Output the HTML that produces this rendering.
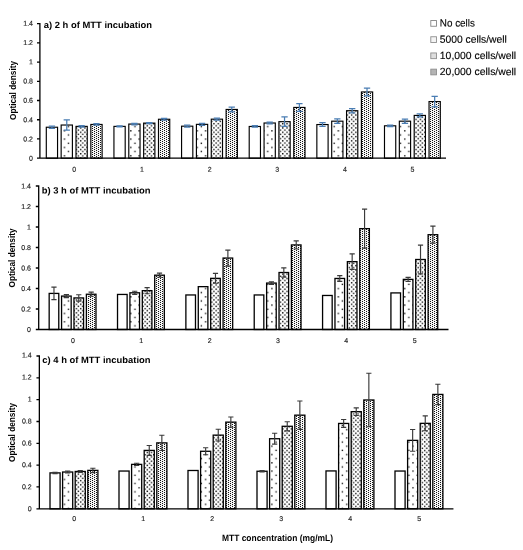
<!DOCTYPE html>
<html lang="en"><head><meta charset="utf-8"><title>MTT incubation optical density</title>
<style>
html,body{margin:0;padding:0;background:#fff;}
body{width:523px;height:550px;overflow:hidden;font-family:"Liberation Sans", sans-serif;}
svg{display:block;}
text{font-family:"Liberation Sans", sans-serif;}
.t{font-weight:bold;font-size:9.1px;fill:#000;}
.k{font-size:7px;fill:#1c1c1c;stroke:#1c1c1c;stroke-width:0.15;}
.l{font-size:10.4px;fill:#000;stroke:#000;stroke-width:0.12;}
.bar{stroke:#000;}
.ax{stroke:#000;stroke-width:1.3;fill:none;}
</style></head><body>
<svg width="523" height="550" viewBox="0 0 523 550">
<defs>
<pattern id="p5" width="8.3" height="8.3" patternUnits="userSpaceOnUse">
<rect width="8.3" height="8.3" fill="#fff"/>
<rect x="1.5" y="1.5" width="1.35" height="1.35" fill="#111"/>
<rect x="5.65" y="5.65" width="1.35" height="1.35" fill="#111"/>
</pattern>
<pattern id="p20" width="4.3" height="4.3" patternUnits="userSpaceOnUse">
<rect width="4.3" height="4.3" fill="#fff"/>
<rect x="0.4" y="0.4" width="1.4" height="1.4" fill="#111"/>
<rect x="2.55" y="2.55" width="1.4" height="1.4" fill="#111"/>
</pattern>
<pattern id="p40" width="4" height="2" patternUnits="userSpaceOnUse">
<rect width="4" height="2" fill="#f6f6f6"/>
<rect x="0" y="0" width="1" height="1" fill="#141414"/>
<rect x="2" y="1" width="1" height="1" fill="#141414"/>
</pattern>
</defs>
<rect width="523" height="550" fill="#fff"/>

<g id="chart-a">
<rect class="bar" stroke-width="1.15" x="46.30" y="127.24" width="11.25" height="30.96" fill="#fff"/>
<rect class="bar" stroke-width="1.15" x="61.15" y="125.03" width="11.25" height="33.17" fill="url(#p5)"/>
<rect class="bar" stroke-width="1.15" x="76.00" y="126.38" width="11.25" height="31.82" fill="url(#p20)"/>
<rect class="bar" stroke-width="1.15" x="90.85" y="124.45" width="11.25" height="33.75" fill="url(#p40)"/>
<rect class="bar" stroke-width="1.15" x="113.94" y="126.38" width="11.25" height="31.82" fill="#fff"/>
<rect class="bar" stroke-width="1.15" x="128.79" y="124.07" width="11.25" height="34.13" fill="url(#p5)"/>
<rect class="bar" stroke-width="1.15" x="143.64" y="123.11" width="11.25" height="35.09" fill="url(#p20)"/>
<rect class="bar" stroke-width="1.15" x="158.49" y="119.26" width="11.25" height="38.94" fill="url(#p40)"/>
<rect class="bar" stroke-width="1.15" x="181.57" y="126.18" width="11.25" height="32.02" fill="#fff"/>
<rect class="bar" stroke-width="1.15" x="196.42" y="124.36" width="11.25" height="33.84" fill="url(#p5)"/>
<rect class="bar" stroke-width="1.15" x="211.27" y="119.17" width="11.25" height="39.03" fill="url(#p20)"/>
<rect class="bar" stroke-width="1.15" x="226.12" y="109.46" width="11.25" height="48.74" fill="url(#p40)"/>
<rect class="bar" stroke-width="1.15" x="249.21" y="126.47" width="11.25" height="31.73" fill="#fff"/>
<rect class="bar" stroke-width="1.15" x="264.06" y="123.01" width="11.25" height="35.19" fill="url(#p5)"/>
<rect class="bar" stroke-width="1.15" x="278.91" y="121.67" width="11.25" height="36.53" fill="url(#p20)"/>
<rect class="bar" stroke-width="1.15" x="293.76" y="107.44" width="11.25" height="50.76" fill="url(#p40)"/>
<rect class="bar" stroke-width="1.15" x="316.85" y="124.55" width="11.25" height="33.65" fill="#fff"/>
<rect class="bar" stroke-width="1.15" x="331.70" y="121.18" width="11.25" height="37.02" fill="url(#p5)"/>
<rect class="bar" stroke-width="1.15" x="346.55" y="110.71" width="11.25" height="47.49" fill="url(#p20)"/>
<rect class="bar" stroke-width="1.15" x="361.40" y="91.96" width="11.25" height="66.24" fill="url(#p40)"/>
<rect class="bar" stroke-width="1.15" x="384.49" y="125.80" width="11.25" height="32.40" fill="#fff"/>
<rect class="bar" stroke-width="1.15" x="399.34" y="121.18" width="11.25" height="37.02" fill="url(#p5)"/>
<rect class="bar" stroke-width="1.15" x="414.19" y="115.42" width="11.25" height="42.78" fill="url(#p20)"/>
<rect class="bar" stroke-width="1.15" x="429.04" y="101.57" width="11.25" height="56.63" fill="url(#p40)"/>
<path d="M51.92 126.09V128.40M48.77 126.09H55.07M48.77 128.40H55.07M66.77 119.84V130.22M63.62 119.84H69.92M63.62 130.22H69.92M81.62 125.61V127.15M78.47 125.61H84.77M78.47 127.15H84.77M96.47 123.68V125.22M93.32 123.68H99.62M93.32 125.22H99.62M119.56 125.99V126.76M116.41 125.99H122.71M116.41 126.76H122.71M134.41 123.30V124.84M131.26 123.30H137.56M131.26 124.84H137.56M149.26 122.53V123.68M146.11 122.53H152.41M146.11 123.68H152.41M164.11 118.49V120.03M160.96 118.49H167.26M160.96 120.03H167.26M187.20 125.22V127.15M184.05 125.22H190.35M184.05 127.15H190.35M202.05 123.40V125.32M198.90 123.40H205.20M198.90 125.32H205.20M216.90 118.20V120.13M213.75 118.20H220.05M213.75 120.13H220.05M231.75 107.05V111.86M228.60 107.05H234.90M228.60 111.86H234.90M254.84 125.70V127.24M251.69 125.70H257.99M251.69 127.24H257.99M269.69 122.24V123.78M266.54 122.24H272.84M266.54 123.78H272.84M284.54 116.86V126.47M281.39 116.86H287.69M281.39 126.47H287.69M299.39 103.59V111.28M296.24 103.59H302.54M296.24 111.28H302.54M322.48 122.63V126.47M319.33 122.63H325.63M319.33 126.47H325.63M337.33 118.88V123.49M334.18 118.88H340.48M334.18 123.49H340.48M352.18 108.59V112.82M349.03 108.59H355.33M349.03 112.82H355.33M367.03 88.11V95.80M363.88 88.11H370.18M363.88 95.80H370.18M390.12 125.03V126.57M386.97 125.03H393.27M386.97 126.57H393.27M404.97 119.07V123.30M401.82 119.07H408.12M401.82 123.30H408.12M419.82 113.97V116.86M416.67 113.97H422.97M416.67 116.86H422.97M434.67 96.28V106.86M431.52 96.28H437.82M431.52 106.86H437.82" stroke="#4a7db3" stroke-width="1.25" fill="none"/>
<path class="ax" d="M39.90 22.95V158.85M39.25 158.20H446.04M37.00 158.20H39.90M37.00 138.97H39.90M37.00 119.74H39.90M37.00 100.51H39.90M37.00 81.29H39.90M37.00 62.06H39.90M37.00 42.83H39.90M37.00 23.60H39.90"/>
<text class="k" x="33.0" y="160.70" transform="rotate(0.03 33.0 160.70)" text-anchor="end">0</text>
<text class="k" x="33.0" y="141.43" transform="rotate(0.03 33.0 141.43)" text-anchor="end">0.2</text>
<text class="k" x="33.0" y="122.16" transform="rotate(0.03 33.0 122.16)" text-anchor="end">0.4</text>
<text class="k" x="33.0" y="102.89" transform="rotate(0.03 33.0 102.89)" text-anchor="end">0.6</text>
<text class="k" x="33.0" y="83.61" transform="rotate(0.03 33.0 83.61)" text-anchor="end">0.8</text>
<text class="k" x="33.0" y="64.34" transform="rotate(0.03 33.0 64.34)" text-anchor="end">1</text>
<text class="k" x="33.0" y="45.07" transform="rotate(0.03 33.0 45.07)" text-anchor="end">1.2</text>
<text class="k" x="33.0" y="25.80" transform="rotate(0.03 33.0 25.80)" text-anchor="end">1.4</text>
<text class="k" x="74.32" y="171.70" transform="rotate(0.03 74.32 171.70)" text-anchor="middle">0</text>
<text class="k" x="141.96" y="171.70" transform="rotate(0.03 141.96 171.70)" text-anchor="middle">1</text>
<text class="k" x="209.60" y="171.70" transform="rotate(0.03 209.60 171.70)" text-anchor="middle">2</text>
<text class="k" x="277.24" y="171.70" transform="rotate(0.03 277.24 171.70)" text-anchor="middle">3</text>
<text class="k" x="344.88" y="171.70" transform="rotate(0.03 344.88 171.70)" text-anchor="middle">4</text>
<text class="k" x="412.52" y="171.70" transform="rotate(0.03 412.52 171.70)" text-anchor="middle">5</text>
<text class="t" x="43.8" y="27.9" transform="rotate(0.03 43.8 27.9)" textLength="108.2" lengthAdjust="spacingAndGlyphs">a) 2 h of MTT incubation</text>
<text class="t" transform="translate(16.3 90.5) rotate(-90)" text-anchor="middle" textLength="59" lengthAdjust="spacingAndGlyphs">Optical density</text>
</g>
<g id="chart-b">
<rect class="bar" stroke-width="1.3" x="49.17" y="293.42" width="9.60" height="36.08" fill="#fff"/>
<rect class="bar" stroke-width="1.3" x="61.57" y="296.08" width="9.60" height="33.42" fill="url(#p5)"/>
<rect class="bar" stroke-width="1.3" x="73.97" y="297.93" width="9.60" height="31.57" fill="url(#p20)"/>
<rect class="bar" stroke-width="1.3" x="86.38" y="294.24" width="9.60" height="35.26" fill="url(#p40)"/>
<rect class="bar" stroke-width="1.3" x="117.52" y="294.44" width="9.60" height="35.06" fill="#fff"/>
<rect class="bar" stroke-width="1.3" x="129.92" y="292.81" width="9.60" height="36.69" fill="url(#p5)"/>
<rect class="bar" stroke-width="1.3" x="142.32" y="290.65" width="9.60" height="38.85" fill="url(#p20)"/>
<rect class="bar" stroke-width="1.3" x="154.72" y="275.18" width="9.60" height="54.32" fill="url(#p40)"/>
<rect class="bar" stroke-width="1.3" x="185.88" y="294.96" width="9.60" height="34.54" fill="#fff"/>
<rect class="bar" stroke-width="1.3" x="198.28" y="286.65" width="9.60" height="42.85" fill="url(#p5)"/>
<rect class="bar" stroke-width="1.3" x="210.68" y="278.35" width="9.60" height="51.15" fill="url(#p20)"/>
<rect class="bar" stroke-width="1.3" x="223.08" y="258.06" width="9.60" height="71.44" fill="url(#p40)"/>
<rect class="bar" stroke-width="1.3" x="254.22" y="294.96" width="9.60" height="34.54" fill="#fff"/>
<rect class="bar" stroke-width="1.3" x="266.62" y="283.07" width="9.60" height="46.43" fill="url(#p5)"/>
<rect class="bar" stroke-width="1.3" x="279.02" y="272.51" width="9.60" height="56.99" fill="url(#p20)"/>
<rect class="bar" stroke-width="1.3" x="291.42" y="244.94" width="9.60" height="84.56" fill="url(#p40)"/>
<rect class="bar" stroke-width="1.3" x="322.57" y="295.47" width="9.60" height="34.03" fill="#fff"/>
<rect class="bar" stroke-width="1.3" x="334.97" y="278.45" width="9.60" height="51.05" fill="url(#p5)"/>
<rect class="bar" stroke-width="1.3" x="347.37" y="261.64" width="9.60" height="67.86" fill="url(#p20)"/>
<rect class="bar" stroke-width="1.3" x="359.77" y="228.64" width="9.60" height="100.86" fill="url(#p40)"/>
<rect class="bar" stroke-width="1.3" x="390.92" y="292.91" width="9.60" height="36.59" fill="#fff"/>
<rect class="bar" stroke-width="1.3" x="403.32" y="279.38" width="9.60" height="50.12" fill="url(#p5)"/>
<rect class="bar" stroke-width="1.3" x="415.72" y="259.49" width="9.60" height="70.01" fill="url(#p20)"/>
<rect class="bar" stroke-width="1.3" x="428.12" y="234.69" width="9.60" height="94.81" fill="url(#p40)"/>
<path d="M53.97 287.17V299.67M51.37 287.17H56.57M51.37 299.67H56.57M66.37 294.55V297.62M63.77 294.55H68.97M63.77 297.62H68.97M78.77 294.75V301.11M76.17 294.75H81.37M76.17 301.11H81.37M91.17 292.19V296.29M88.58 292.19H93.77M88.58 296.29H93.77M134.72 291.27V294.34M132.12 291.27H137.32M132.12 294.34H137.32M147.12 287.58V293.73M144.52 287.58H149.72M144.52 293.73H149.72M159.52 273.12V277.23M156.92 273.12H162.12M156.92 277.23H162.12M215.47 273.43V283.27M212.88 273.43H218.07M212.88 283.27H218.07M227.88 250.06V266.05M225.28 250.06H230.47M225.28 266.05H230.47M271.42 281.84V284.30M268.82 281.84H274.02M268.82 284.30H274.02M283.82 267.90V277.12M281.22 267.90H286.42M281.22 277.12H286.42M296.22 240.84V249.04M293.62 240.84H298.82M293.62 249.04H298.82M339.77 275.58V281.32M337.17 275.58H342.37M337.17 281.32H342.37M352.17 253.86V269.44M349.57 253.86H354.77M349.57 269.44H354.77M364.57 209.17V248.12M361.97 209.17H367.17M361.97 248.12H367.17M408.12 277.33V281.43M405.52 277.33H410.72M405.52 281.43H410.72M420.52 245.14V273.84M417.92 245.14H423.12M417.92 273.84H423.12M432.92 226.18V243.19M430.32 226.18H435.52M430.32 243.19H435.52" stroke="#3a3a3a" stroke-width="1.15" fill="none"/>
<path class="ax" d="M38.70 185.35V330.15M38.05 329.50H448.50M35.80 329.50H38.70M35.80 309.00H38.70M35.80 288.50H38.70M35.80 268.00H38.70M35.80 247.50H38.70M35.80 227.00H38.70M35.80 206.50H38.70M35.80 186.00H38.70"/>
<text class="k" x="31.0" y="332.00" transform="rotate(0.03 31.0 332.00)" text-anchor="end">0</text>
<text class="k" x="31.0" y="311.50" transform="rotate(0.03 31.0 311.50)" text-anchor="end">0.2</text>
<text class="k" x="31.0" y="291.00" transform="rotate(0.03 31.0 291.00)" text-anchor="end">0.4</text>
<text class="k" x="31.0" y="270.50" transform="rotate(0.03 31.0 270.50)" text-anchor="end">0.6</text>
<text class="k" x="31.0" y="250.00" transform="rotate(0.03 31.0 250.00)" text-anchor="end">0.8</text>
<text class="k" x="31.0" y="229.50" transform="rotate(0.03 31.0 229.50)" text-anchor="end">1</text>
<text class="k" x="31.0" y="209.00" transform="rotate(0.03 31.0 209.00)" text-anchor="end">1.2</text>
<text class="k" x="31.0" y="188.50" transform="rotate(0.03 31.0 188.50)" text-anchor="end">1.4</text>
<text class="k" x="72.87" y="342.90" transform="rotate(0.03 72.87 342.90)" text-anchor="middle">0</text>
<text class="k" x="141.22" y="342.90" transform="rotate(0.03 141.22 342.90)" text-anchor="middle">1</text>
<text class="k" x="209.58" y="342.90" transform="rotate(0.03 209.58 342.90)" text-anchor="middle">2</text>
<text class="k" x="277.92" y="342.90" transform="rotate(0.03 277.92 342.90)" text-anchor="middle">3</text>
<text class="k" x="346.27" y="342.90" transform="rotate(0.03 346.27 342.90)" text-anchor="middle">4</text>
<text class="k" x="414.62" y="342.90" transform="rotate(0.03 414.62 342.90)" text-anchor="middle">5</text>
<text class="t" x="41.7" y="193.4" transform="rotate(0.03 41.7 193.4)" textLength="108.9" lengthAdjust="spacingAndGlyphs">b) 3 h of MTT incubation</text>
<text class="t" transform="translate(14.6 258.0) rotate(-90)" text-anchor="middle" textLength="59" lengthAdjust="spacingAndGlyphs">Optical density</text>
</g>
<g id="chart-c">
<rect class="bar" stroke-width="1.3" x="50.00" y="472.89" width="10.10" height="35.91" fill="#fff"/>
<rect class="bar" stroke-width="1.3" x="62.60" y="472.02" width="10.10" height="36.78" fill="url(#p5)"/>
<rect class="bar" stroke-width="1.3" x="75.20" y="471.47" width="10.10" height="37.33" fill="url(#p20)"/>
<rect class="bar" stroke-width="1.3" x="87.80" y="470.38" width="10.10" height="38.42" fill="url(#p40)"/>
<rect class="bar" stroke-width="1.3" x="119.00" y="471.04" width="10.10" height="37.76" fill="#fff"/>
<rect class="bar" stroke-width="1.3" x="131.60" y="464.38" width="10.10" height="44.42" fill="url(#p5)"/>
<rect class="bar" stroke-width="1.3" x="144.20" y="450.41" width="10.10" height="58.39" fill="url(#p20)"/>
<rect class="bar" stroke-width="1.3" x="156.80" y="442.88" width="10.10" height="65.92" fill="url(#p40)"/>
<rect class="bar" stroke-width="1.3" x="188.00" y="470.49" width="10.10" height="38.31" fill="#fff"/>
<rect class="bar" stroke-width="1.3" x="200.60" y="451.28" width="10.10" height="57.52" fill="url(#p5)"/>
<rect class="bar" stroke-width="1.3" x="213.20" y="435.13" width="10.10" height="73.67" fill="url(#p20)"/>
<rect class="bar" stroke-width="1.3" x="225.80" y="422.14" width="10.10" height="86.66" fill="url(#p40)"/>
<rect class="bar" stroke-width="1.3" x="257.00" y="471.25" width="10.10" height="37.55" fill="#fff"/>
<rect class="bar" stroke-width="1.3" x="269.60" y="438.73" width="10.10" height="70.07" fill="url(#p5)"/>
<rect class="bar" stroke-width="1.3" x="282.20" y="426.29" width="10.10" height="82.51" fill="url(#p20)"/>
<rect class="bar" stroke-width="1.3" x="294.80" y="415.16" width="10.10" height="93.64" fill="url(#p40)"/>
<rect class="bar" stroke-width="1.3" x="326.00" y="470.93" width="10.10" height="37.87" fill="#fff"/>
<rect class="bar" stroke-width="1.3" x="338.60" y="423.45" width="10.10" height="85.35" fill="url(#p5)"/>
<rect class="bar" stroke-width="1.3" x="351.20" y="411.66" width="10.10" height="97.14" fill="url(#p20)"/>
<rect class="bar" stroke-width="1.3" x="363.80" y="399.98" width="10.10" height="108.82" fill="url(#p40)"/>
<rect class="bar" stroke-width="1.3" x="395.00" y="471.04" width="10.10" height="37.76" fill="#fff"/>
<rect class="bar" stroke-width="1.3" x="407.60" y="440.37" width="10.10" height="68.43" fill="url(#p5)"/>
<rect class="bar" stroke-width="1.3" x="420.20" y="423.34" width="10.10" height="85.46" fill="url(#p20)"/>
<rect class="bar" stroke-width="1.3" x="432.80" y="394.42" width="10.10" height="114.38" fill="url(#p40)"/>
<path d="M55.05 472.24V473.55M52.45 472.24H57.65M52.45 473.55H57.65M67.65 471.04V473.00M65.05 471.04H70.25M65.05 473.00H70.25M80.25 470.60V472.35M77.65 470.60H82.85M77.65 472.35H82.85M92.85 468.20V472.56M90.25 468.20H95.45M90.25 472.56H95.45M136.65 463.29V465.47M134.05 463.29H139.25M134.05 465.47H139.25M149.25 445.50V455.32M146.65 445.50H151.85M146.65 455.32H151.85M161.85 435.24V450.52M159.25 435.24H164.45M159.25 450.52H164.45M205.65 447.79V454.77M203.05 447.79H208.25M203.05 454.77H208.25M218.25 429.23V441.02M215.65 429.23H220.85M215.65 441.02H220.85M230.85 417.01V427.27M228.25 417.01H233.45M228.25 427.27H233.45M262.05 470.60V471.91M259.45 470.60H264.65M259.45 471.91H264.65M274.65 433.27V444.19M272.05 433.27H277.25M272.05 444.19H277.25M287.25 421.70V430.87M284.65 421.70H289.85M284.65 430.87H289.85M299.85 400.97V429.34M297.25 400.97H302.45M297.25 429.34H302.45M343.65 419.52V427.38M341.05 419.52H346.25M341.05 427.38H346.25M356.25 407.84V415.48M353.65 407.84H358.85M353.65 415.48H358.85M368.85 373.24V426.72M366.25 373.24H371.45M366.25 426.72H371.45M412.65 429.45V451.28M410.05 429.45H415.25M410.05 451.28H415.25M425.25 415.92V430.76M422.65 415.92H427.85M422.65 430.76H427.85M437.85 384.27V404.57M435.25 384.27H440.45M435.25 404.57H440.45" stroke="#3a3a3a" stroke-width="1.15" fill="none"/>
<path class="ax" d="M39.35 355.35V509.45M38.70 508.80H453.45M36.45 508.80H39.35M36.45 486.97H39.35M36.45 465.14H39.35M36.45 443.31H39.35M36.45 421.49H39.35M36.45 399.66H39.35M36.45 377.83H39.35M36.45 356.00H39.35"/>
<text class="k" x="31.7" y="511.30" transform="rotate(0.03 31.7 511.30)" text-anchor="end">0</text>
<text class="k" x="31.7" y="489.34" transform="rotate(0.03 31.7 489.34)" text-anchor="end">0.2</text>
<text class="k" x="31.7" y="467.39" transform="rotate(0.03 31.7 467.39)" text-anchor="end">0.4</text>
<text class="k" x="31.7" y="445.43" transform="rotate(0.03 31.7 445.43)" text-anchor="end">0.6</text>
<text class="k" x="31.7" y="423.47" transform="rotate(0.03 31.7 423.47)" text-anchor="end">0.8</text>
<text class="k" x="31.7" y="401.51" transform="rotate(0.03 31.7 401.51)" text-anchor="end">1</text>
<text class="k" x="31.7" y="379.56" transform="rotate(0.03 31.7 379.56)" text-anchor="end">1.2</text>
<text class="k" x="31.7" y="357.60" transform="rotate(0.03 31.7 357.60)" text-anchor="end">1.4</text>
<text class="k" x="74.25" y="520.90" transform="rotate(0.03 74.25 520.90)" text-anchor="middle">0</text>
<text class="k" x="143.25" y="520.90" transform="rotate(0.03 143.25 520.90)" text-anchor="middle">1</text>
<text class="k" x="212.25" y="520.90" transform="rotate(0.03 212.25 520.90)" text-anchor="middle">2</text>
<text class="k" x="281.25" y="520.90" transform="rotate(0.03 281.25 520.90)" text-anchor="middle">3</text>
<text class="k" x="350.25" y="520.90" transform="rotate(0.03 350.25 520.90)" text-anchor="middle">4</text>
<text class="k" x="419.25" y="520.90" transform="rotate(0.03 419.25 520.90)" text-anchor="middle">5</text>
<text class="t" x="42.3" y="363.0" transform="rotate(0.03 42.3 363.0)" textLength="108.3" lengthAdjust="spacingAndGlyphs">c) 4 h of MTT incubation</text>
<text class="t" transform="translate(14.7 432.5) rotate(-90)" text-anchor="middle" textLength="59" lengthAdjust="spacingAndGlyphs">Optical density</text>
</g>
<g id="legend">
<rect x="430.8" y="20.55" width="5.7" height="5.7" fill="#fff" stroke="#858585" stroke-width="0.9"/>
<text class="l" x="439.8" y="26.50" transform="rotate(0.03 439.8 26.50)" textLength="35.1" lengthAdjust="spacingAndGlyphs">No cells</text>
<rect x="430.8" y="36.75" width="5.7" height="5.7" fill="#f4f4f4" stroke="#8e8e8e" stroke-width="0.9"/>
<text class="l" x="439.8" y="42.70" transform="rotate(0.03 439.8 42.70)" textLength="67.1" lengthAdjust="spacingAndGlyphs">5000 cells/well</text>
<rect x="430.8" y="52.95" width="5.7" height="5.7" fill="#dedede" stroke="#8e8e8e" stroke-width="0.9"/>
<text class="l" x="439.8" y="58.90" transform="rotate(0.03 439.8 58.90)" textLength="76.4" lengthAdjust="spacingAndGlyphs">10,000 cells/well</text>
<rect x="430.8" y="69.15" width="5.7" height="5.7" fill="#b4b4b4" stroke="#8e8e8e" stroke-width="0.9"/>
<text class="l" x="439.8" y="75.10" transform="rotate(0.03 439.8 75.10)" textLength="76.4" lengthAdjust="spacingAndGlyphs">20,000 cells/well</text>
</g>
<text class="t" x="222" y="540.6" transform="rotate(0.03 222 540.6)" textLength="111" lengthAdjust="spacingAndGlyphs">MTT concentration (mg/mL)</text>
</svg></body></html>
